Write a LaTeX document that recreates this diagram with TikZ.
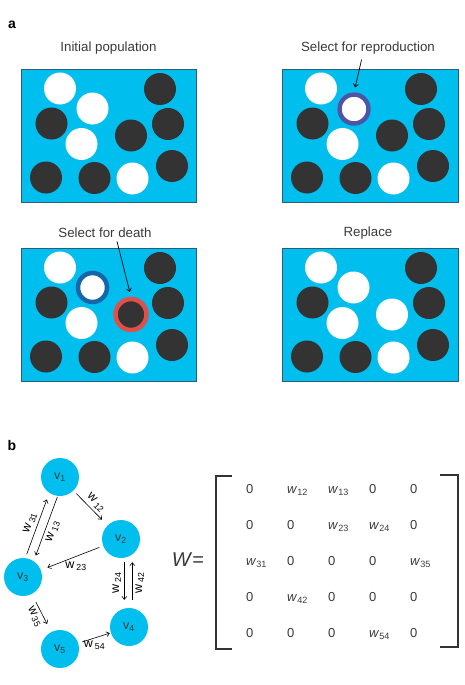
\documentclass[tikz,border=0pt]{standalone}
\usepackage{fontspec}
\setmainfont{Liberation Sans}
\usetikzlibrary{arrows.meta}
\definecolor{popblue}{HTML}{00BEEE}
\definecolor{tankedge}{HTML}{2E5C74}
\definecolor{cellgray}{HTML}{333333}
\definecolor{textgray}{HTML}{3A3A3A}
\definecolor{reproring}{HTML}{4B56A6}
\definecolor{parentring}{HTML}{1566AB}
\definecolor{deathring}{HTML}{E0504A}
% cell positions inside one tank
\newcommand{\whites}{39/19.5,71.5/39.5,60.5/75,111.5/109.5}
\newcommand{\blacks}{139/20,30.5/54.5,147/55,151/97,25/108.5,73.5/109}
\newcommand{\wsub}[1]{w\,\textsubscript{#1}}
\newcommand{\wit}[1]{\textit{w}\textsubscript{#1}}

\begin{document}
\begin{tikzpicture}[x=1pt,y=-1pt,textgray,font=\fontsize{12.5}{14}\selectfont,
    tank/.style={fill=popblue,draw=tankedge,line width=0.8pt},
    title/.style={font=\fontsize{13.3}{15}\selectfont},
    panel/.style={font=\bfseries\fontsize{14}{16}\selectfont,text=black},
    ring/.style={circle,line width=4.5pt,inner sep=0pt,minimum size=29pt},
    pointer/.style={-{Straight Barb[length=3pt,width=5pt]},line width=0.7pt,black},
    vertex/.style={circle,fill=popblue,inner sep=0pt,minimum size=38pt},
    link/.style={-{Straight Barb[length=3pt,width=5pt]},line width=0.6pt,black},
    elabel/.style={inner sep=3pt},
    entry/.style={anchor=base west,inner sep=0pt,font=\fontsize{13}{15}\selectfont},
    bracket/.style={line width=1.6pt,cellgray}]
\useasboundingbox (0,0) rectangle (464,685);

% a
\node[panel] (la) at (12,25) {a};
\node[title] (init) at (108.5,48) {Initial population};
\node[title] (repro) at (368,48) {Select for reproduction};
\node[title] (death) at (105,233) {Select for death};
\node[title] (repl) at (368,233) {Replace};

\begin{scope}[shift={(21,69)}]
  \draw[tank] (0,0) rectangle (175,133);
  \foreach \x/\y in \whites \fill[white] (\x,\y) circle (16pt);
  \foreach \x/\y in \blacks \fill[cellgray] (\x,\y) circle (16pt);
  \fill[cellgray] (110,66.5) circle (16pt);
\end{scope}

\begin{scope}[shift={(282,69)}]
  \draw[tank] (0,0) rectangle (176,133);
  \foreach \x/\y in \whites \fill[white] (\x,\y) circle (16pt);
  \foreach \x/\y in \blacks \fill[cellgray] (\x,\y) circle (16pt);
  \fill[cellgray] (110,66.5) circle (16pt);
  \node[ring,draw=reproring,fill=white] (parent1) at (72,40) {};
\end{scope}

\begin{scope}[shift={(21,248)}]
  \draw[tank] (0,0) rectangle (175,133);
  \foreach \x/\y in \whites \fill[white] (\x,\y) circle (16pt);
  \foreach \x/\y in \blacks \fill[cellgray] (\x,\y) circle (16pt);
  \node[ring,draw=parentring,fill=white] (parent2) at (71.5,39.5) {};
  \node[ring,draw=deathring,fill=cellgray,minimum size=31pt] (victim) at (110,66.5) {};
\end{scope}

\begin{scope}[shift={(282,248)}]
  \draw[tank] (0,0) rectangle (176,133);
  \foreach \x/\y in \whites \fill[white] (\x,\y) circle (16pt);
  \foreach \x/\y in \blacks \fill[cellgray] (\x,\y) circle (16pt);
  \fill[white] (110,66.5) circle (16pt);
\end{scope}

\draw[pointer,shorten <=2pt,shorten >=5pt] ([xshift=-6pt]repro.south) -- (parent1.north);
\draw[pointer,shorten <=0pt,shorten >=5pt] ([xshift=12pt]death.south) -- (victim.north);

% b
\node[panel] (lb) at (12,445) {b};
\node[vertex] (v1) at (60,477) {v\textsubscript{1}};
\node[vertex] (v2) at (121,539) {v\textsubscript{2}};
\node[vertex] (v3) at (23,577) {v\textsubscript{3}};
\node[vertex] (v4) at (129,627) {v\textsubscript{4}};
\node[vertex] (v5) at (60,649) {v\textsubscript{5}};

\draw[link,shorten <=4pt,shorten >=8pt] (v1) -- (v2) node[elabel,midway,sloped,above] {\wsub{12}};
\draw[link,shorten <=1pt,shorten >=6pt] (v1.263) -- (v3.56) node[elabel,midway,sloped,below] {\wsub{13}};
\draw[link,shorten <=4pt,shorten >=7pt] (v3.83) -- (v1.236) node[elabel,midway,sloped,above] {\wsub{31}};
\draw[link,shorten <=4pt,shorten >=7pt] (v2) -- (v3) node[elabel,midway,below=1pt,xshift=4pt] {\wsub{23}};
\draw[link,shorten <=4pt,shorten >=8pt] (v2.-80) -- (v2.-80 |- v4.north) node[elabel,midway,rotate=90,anchor=south] {\wsub{24}};
\draw[link,shorten <=8pt,shorten >=4pt] (v4.80) -- (v4.80 |- v2.south) node[elabel,midway,rotate=90,anchor=north] {\wsub{42}};
\draw[link,shorten <=9pt,shorten >=9pt] (v3) -- (v5) node[elabel,midway,sloped,below] {\wsub{35}};
\draw[link,shorten <=4pt,shorten >=1pt] (v5) -- (v4) node[elabel,midway,below] {\wsub{54}};

% weight matrix
\node[font=\fontsize{20}{24}\selectfont] (weq) at (188,560) {\textit{W}=};
\draw[bracket] (232,476) -- (216,476) -- (216,649) -- (232,649);
\draw[bracket] (440,475) -- (458,475) -- (458,647) -- (440,647);
\foreach \row [count=\i] in {{0,\wit{12},\wit{13},0,0},{0,0,\wit{23},\wit{24},0},{\wit{31},0,0,0,\wit{35}},{0,\wit{42},0,0,0},{0,0,0,\wit{54},0}}
  \foreach \entry [count=\j] in \row
    \node[entry] (m\i\j) at ({205+41*\j},{457+36*\i}) {\entry};
\end{tikzpicture}
\end{document}
